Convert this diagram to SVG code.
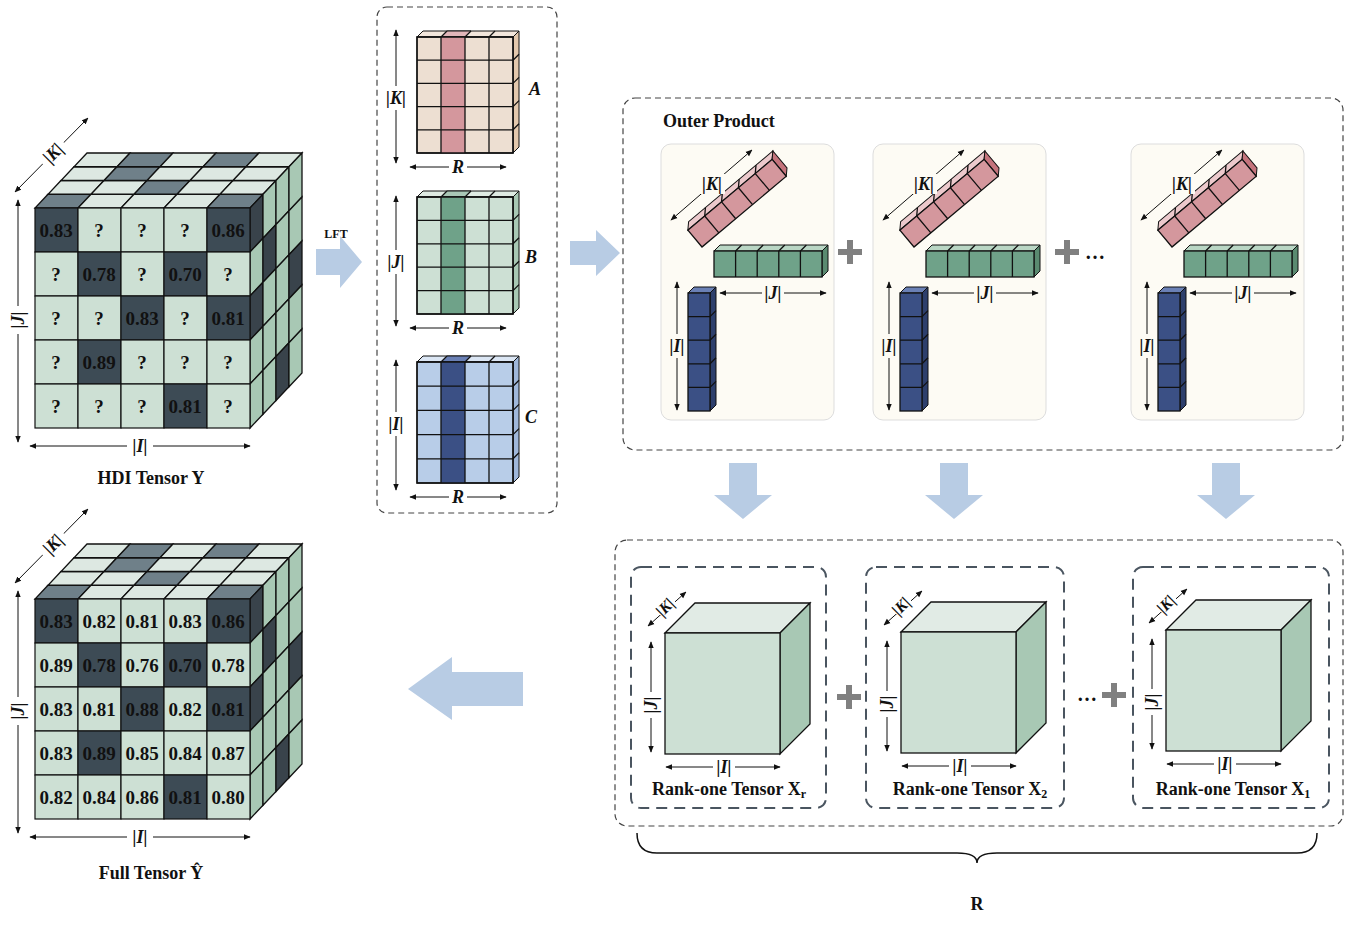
<svg xmlns="http://www.w3.org/2000/svg" width="1353" height="939" viewBox="0 0 1353 939">
<style>
text{font-family:"Liberation Serif","Times New Roman",serif;font-weight:bold;fill:#111}
.v{font-size:19px;text-anchor:middle;dominant-baseline:central}
.lab{font-size:18px;text-anchor:middle;dominant-baseline:central}
.it{font-style:italic}
.ax{stroke:#111;stroke-width:1;fill:none;marker-start:url(#ah);marker-end:url(#ah)}
.ns rect{vector-effect:non-scaling-stroke;stroke:#111;stroke-width:1.3}
.lt{fill:#cde0d4}.dk{fill:#3d4b55}.tl{fill:#dde8e2}.tg{fill:#6f8089}.sl{fill:#a8c8b4}.sd{fill:#39434b}
.dash{fill:none;stroke:#444;stroke-width:1.2;stroke-dasharray:6 4}
.dash2{fill:none;stroke:#4a5560;stroke-width:2;stroke-dasharray:11 7}
.barrow{fill:#b8cce4}
.plus{stroke:#808080;stroke-width:6}
.cell{stroke:#111;stroke-width:1.2}
.bg{fill:#fdfbf4;stroke:#ddd;stroke-width:1}
</style>
<defs>
<marker id="ah" viewBox="0 0 10 10" refX="9" refY="5" markerWidth="7" markerHeight="7" orient="auto-start-reverse"><path d="M0,1 L10,5 L0,9 z" fill="#111"/></marker>
<g id="cubeSides">
<g transform="matrix(43,0,13,-13.75,35,208)">
<g class="ns">
<rect class="tg" x="0" y="0" width="1" height="1"/><rect class="tl" x="1" y="0" width="1" height="1"/><rect class="tl" x="2" y="0" width="1" height="1"/><rect class="tl" x="3" y="0" width="1" height="1"/><rect class="tg" x="4" y="0" width="1" height="1"/>
<rect class="tl" x="0" y="1" width="1" height="1"/><rect class="tl" x="1" y="1" width="1" height="1"/><rect class="tg" x="2" y="1" width="1" height="1"/><rect class="tl" x="3" y="1" width="1" height="1"/><rect class="tl" x="4" y="1" width="1" height="1"/>
<rect class="tl" x="0" y="2" width="1" height="1"/><rect class="tg" x="1" y="2" width="1" height="1"/><rect class="tl" x="2" y="2" width="1" height="1"/><rect class="tl" x="3" y="2" width="1" height="1"/><rect class="tl" x="4" y="2" width="1" height="1"/>
<rect class="tl" x="0" y="3" width="1" height="1"/><rect class="tg" x="1" y="3" width="1" height="1"/><rect class="tl" x="2" y="3" width="1" height="1"/><rect class="tg" x="3" y="3" width="1" height="1"/><rect class="tl" x="4" y="3" width="1" height="1"/>
</g></g>
<g transform="matrix(13,-13.75,0,44,250,208)">
<g class="ns">
<rect class="sd" x="0" y="0" width="1" height="1"/><rect class="sl" x="0" y="1" width="1" height="1"/><rect class="sd" x="0" y="2" width="1" height="1"/><rect class="sl" x="0" y="3" width="1" height="1"/><rect class="sl" x="0" y="4" width="1" height="1"/>
<rect class="sl" x="1" y="0" width="1" height="1"/><rect class="sd" x="1" y="1" width="1" height="1"/><rect class="sl" x="1" y="2" width="1" height="1"/><rect class="sl" x="1" y="3" width="1" height="1"/><rect class="sl" x="1" y="4" width="1" height="1"/>
<rect class="sl" x="2" y="0" width="1" height="1"/><rect class="sl" x="2" y="1" width="1" height="1"/><rect class="sl" x="2" y="2" width="1" height="1"/><rect class="sl" x="2" y="3" width="1" height="1"/><rect class="sd" x="2" y="4" width="1" height="1"/>
<rect class="sl" x="3" y="0" width="1" height="1"/><rect class="sl" x="3" y="1" width="1" height="1"/><rect class="sd" x="3" y="2" width="1" height="1"/><rect class="sl" x="3" y="3" width="1" height="1"/><rect class="sl" x="3" y="4" width="1" height="1"/>
</g></g>
<line class="ax" x1="15" y1="192" x2="88" y2="118"/>
<line class="ax" x1="18" y1="200" x2="18" y2="442"/>
<line class="ax" x1="30" y1="446" x2="250" y2="446"/>
<rect x="38" y="144" width="30" height="18" fill="#fff" transform="rotate(-45 53 153)"/>
<text class="lab it" transform="translate(53,153) rotate(-45)">|K|</text>
<rect x="8" y="306" width="20" height="28" fill="#fff"/>
<text class="lab it" transform="translate(18,320) rotate(-90)">|J|</text>
<rect x="127" y="437" width="26" height="18" fill="#fff"/>
<text class="lab it" x="140" y="446">|I|</text>
</g>
<g id="bar">
<polygon points="0,0 108,0 114,-6 6,-6" fill="#b9d6c4" stroke="#111"/>
<polygon points="108,0 114,-6 114,20 108,26" fill="#5a8a70" stroke="#111"/>
<rect width="108" height="26" fill="#6fa289" stroke="#111" stroke-width="1.3"/>
<path d="M21.6,0V26M43.2,0V26M64.8,0V26M86.4,0V26M27.6,-6L21.6,0M49.2,-6L43.2,0M70.8,-6L64.8,0M92.4,-6L86.4,0" stroke="#111" stroke-width="1.3"/>
</g>
<g id="col">
<polygon points="0,0 22,0 28,-6 6,-6" fill="#6a80b5" stroke="#111"/>
<polygon points="22,0 28,-6 28,112 22,118" fill="#2d3f6c" stroke="#111"/>
<rect width="22" height="118" fill="#3b5085" stroke="#111" stroke-width="1.3"/>
<path d="M0,23.6H22M0,47.2H22M0,70.8H22M0,94.4H22M22,23.6L28,17.6M22,47.2L28,41.2M22,70.8L28,64.8M22,94.4L28,88.4" stroke="#111" stroke-width="1.3"/>
</g>
<g id="pink">
<g transform="translate(702,247) rotate(-40)">
<polygon points="0,-22 110,-22 116,-28 6,-28" fill="#ecc9cc" stroke="#111"/>
<polygon points="110,0 110,-22 116,-28 116,-6" fill="#c4737c" stroke="#111"/>
<rect y="-22" width="110" height="22" fill="#d4979d" stroke="#111" stroke-width="1.3"/>
<path d="M22,0V-22M44,0V-22M66,0V-22M88,0V-22M22,-22L28,-28M44,-22L50,-28M66,-22L72,-28M88,-22L94,-28" stroke="#111" stroke-width="1.3"/>
</g>
</g>
<g id="panel">
<rect class="bg" x="661" y="144" width="173" height="276" rx="10"/>
<use href="#pink"/>
<use href="#bar" x="714" y="251"/>
<use href="#col" x="688" y="293"/>
<line class="ax" x1="671" y1="220" x2="752" y2="150"/>
<rect x="699" y="174" width="26" height="20" fill="#fdfbf4"/>
<text class="lab it" x="712" y="184">|K|</text>
<line class="ax" x1="720" y1="293" x2="826" y2="293"/>
<rect x="762" y="284" width="22" height="20" fill="#fdfbf4"/>
<text class="lab it" x="773" y="293">|J|</text>
<line class="ax" x1="677" y1="282" x2="677" y2="410"/>
<rect x="668" y="334" width="18" height="24" fill="#fdfbf4"/>
<text class="lab it" x="677" y="346">|I|</text>
</g>
<g id="rcube">
<polygon points="665,633 695,603 810,603 780,633" fill="#e1ebe5" stroke="#111" stroke-width="1.3"/>
<polygon points="780,633 810,603 810,724 780,754" fill="#a8c8b4" stroke="#111" stroke-width="1.3"/>
<rect x="665" y="633" width="115" height="121" fill="#cde0d4" stroke="#111" stroke-width="1.3"/>
<line class="ax" x1="648" y1="626" x2="686" y2="592"/>
<rect x="655" y="599" width="20" height="16" fill="#fff"/>
<text class="lab it" transform="translate(665,607) rotate(-45)" style="font-size:16px">|K|</text>
<line class="ax" x1="651" y1="642" x2="651" y2="752"/>
<rect x="642" y="692" width="18" height="26" fill="#fff"/>
<text class="lab it" transform="translate(651,705) rotate(-90)">|J|</text>
<line class="ax" x1="666" y1="767" x2="780" y2="767"/>
<rect x="713" y="758" width="22" height="18" fill="#fff"/>
<text class="lab it" x="724" y="767">|I|</text>
</g>
</defs>

<g id="connectors">
<polygon class="barrow" points="316,249 340,249 340,236 362,262 340,288 340,275 316,275"/>
<text x="336" y="238" style="font-size:12px;text-anchor:middle">LFT</text>
<polygon class="barrow" points="570,241 596,241 596,230 620,253 596,276 596,265 570,265"/>
<polygon class="barrow" points="729,463 757,463 757,495 772,495 743,519 714,495 729,495"/>
<polygon class="barrow" points="940,463 968,463 968,495 983,495 954,519 925,495 940,495"/>
<polygon class="barrow" points="1212,463 1240,463 1240,495 1255,495 1226,519 1197,495 1212,495"/>
<polygon class="barrow" points="523,672 452,672 452,657 408,689 452,720 452,706 523,706"/>
<g class="plus"><line x1="838" y1="252" x2="862" y2="252"/><line x1="850" y1="240" x2="850" y2="264"/>
<line x1="1055" y1="252" x2="1079" y2="252"/><line x1="1067" y1="240" x2="1067" y2="264"/>
<line x1="837" y1="697" x2="861" y2="697"/><line x1="849" y1="685" x2="849" y2="709"/>
<line x1="1102" y1="695" x2="1126" y2="695"/><line x1="1114" y1="683" x2="1114" y2="707"/></g>
<text x="1095" y="252" style="font-size:20px;text-anchor:middle;dominant-baseline:central">…</text>
<text x="1087" y="694" style="font-size:20px;text-anchor:middle;dominant-baseline:central">…</text>
<path d="M637,833 Q637,853 657,853 L957,853 Q977,853 977,863 Q977,853 997,853 L1297,853 Q1317,853 1317,833" fill="none" stroke="#111" stroke-width="1.5"/>
<text class="lab" x="977" y="904">R</text>
</g>

<g id="tensorY">
<use href="#cubeSides"/>
<g class="cell">
<rect class="dk" x="35" y="208" width="43" height="44"/><rect class="lt" x="78" y="208" width="43" height="44"/><rect class="lt" x="121" y="208" width="43" height="44"/><rect class="lt" x="164" y="208" width="43" height="44"/><rect class="dk" x="207" y="208" width="43" height="44"/>
<rect class="lt" x="35" y="252" width="43" height="44"/><rect class="dk" x="78" y="252" width="43" height="44"/><rect class="lt" x="121" y="252" width="43" height="44"/><rect class="dk" x="164" y="252" width="43" height="44"/><rect class="lt" x="207" y="252" width="43" height="44"/>
<rect class="lt" x="35" y="296" width="43" height="44"/><rect class="lt" x="78" y="296" width="43" height="44"/><rect class="dk" x="121" y="296" width="43" height="44"/><rect class="lt" x="164" y="296" width="43" height="44"/><rect class="dk" x="207" y="296" width="43" height="44"/>
<rect class="lt" x="35" y="340" width="43" height="44"/><rect class="dk" x="78" y="340" width="43" height="44"/><rect class="lt" x="121" y="340" width="43" height="44"/><rect class="lt" x="164" y="340" width="43" height="44"/><rect class="lt" x="207" y="340" width="43" height="44"/>
<rect class="lt" x="35" y="384" width="43" height="44"/><rect class="lt" x="78" y="384" width="43" height="44"/><rect class="lt" x="121" y="384" width="43" height="44"/><rect class="dk" x="164" y="384" width="43" height="44"/><rect class="lt" x="207" y="384" width="43" height="44"/>
</g>
<g>
<text class="v" x="56" y="230">0.83</text><text class="v" x="99" y="230">?</text><text class="v" x="142" y="230">?</text><text class="v" x="185" y="230">?</text><text class="v" x="228" y="230">0.86</text>
<text class="v" x="56" y="274">?</text><text class="v" x="99" y="274">0.78</text><text class="v" x="142" y="274">?</text><text class="v" x="185" y="274">0.70</text><text class="v" x="228" y="274">?</text>
<text class="v" x="56" y="318">?</text><text class="v" x="99" y="318">?</text><text class="v" x="142" y="318">0.83</text><text class="v" x="185" y="318">?</text><text class="v" x="228" y="318">0.81</text>
<text class="v" x="56" y="362">?</text><text class="v" x="99" y="362">0.89</text><text class="v" x="142" y="362">?</text><text class="v" x="185" y="362">?</text><text class="v" x="228" y="362">?</text>
<text class="v" x="56" y="406">?</text><text class="v" x="99" y="406">?</text><text class="v" x="142" y="406">?</text><text class="v" x="185" y="406">0.81</text><text class="v" x="228" y="406">?</text>
</g>
<text class="lab" x="151" y="478">HDI Tensor Y</text>
</g>

<g id="tensorFull" transform="translate(0,391)">
<use href="#cubeSides"/>
<g class="cell">
<rect class="dk" x="35" y="208" width="43" height="44"/><rect class="lt" x="78" y="208" width="43" height="44"/><rect class="lt" x="121" y="208" width="43" height="44"/><rect class="lt" x="164" y="208" width="43" height="44"/><rect class="dk" x="207" y="208" width="43" height="44"/>
<rect class="lt" x="35" y="252" width="43" height="44"/><rect class="dk" x="78" y="252" width="43" height="44"/><rect class="lt" x="121" y="252" width="43" height="44"/><rect class="dk" x="164" y="252" width="43" height="44"/><rect class="lt" x="207" y="252" width="43" height="44"/>
<rect class="lt" x="35" y="296" width="43" height="44"/><rect class="lt" x="78" y="296" width="43" height="44"/><rect class="dk" x="121" y="296" width="43" height="44"/><rect class="lt" x="164" y="296" width="43" height="44"/><rect class="dk" x="207" y="296" width="43" height="44"/>
<rect class="lt" x="35" y="340" width="43" height="44"/><rect class="dk" x="78" y="340" width="43" height="44"/><rect class="lt" x="121" y="340" width="43" height="44"/><rect class="lt" x="164" y="340" width="43" height="44"/><rect class="lt" x="207" y="340" width="43" height="44"/>
<rect class="lt" x="35" y="384" width="43" height="44"/><rect class="lt" x="78" y="384" width="43" height="44"/><rect class="lt" x="121" y="384" width="43" height="44"/><rect class="dk" x="164" y="384" width="43" height="44"/><rect class="lt" x="207" y="384" width="43" height="44"/>
</g>
<g>
<text class="v" x="56" y="230">0.83</text><text class="v" x="99" y="230">0.82</text><text class="v" x="142" y="230">0.81</text><text class="v" x="185" y="230">0.83</text><text class="v" x="228" y="230">0.86</text>
<text class="v" x="56" y="274">0.89</text><text class="v" x="99" y="274">0.78</text><text class="v" x="142" y="274">0.76</text><text class="v" x="185" y="274">0.70</text><text class="v" x="228" y="274">0.78</text>
<text class="v" x="56" y="318">0.83</text><text class="v" x="99" y="318">0.81</text><text class="v" x="142" y="318">0.88</text><text class="v" x="185" y="318">0.82</text><text class="v" x="228" y="318">0.81</text>
<text class="v" x="56" y="362">0.83</text><text class="v" x="99" y="362">0.89</text><text class="v" x="142" y="362">0.85</text><text class="v" x="185" y="362">0.84</text><text class="v" x="228" y="362">0.87</text>
<text class="v" x="56" y="406">0.82</text><text class="v" x="99" y="406">0.84</text><text class="v" x="142" y="406">0.86</text><text class="v" x="185" y="406">0.81</text><text class="v" x="228" y="406">0.80</text>
</g>
<text class="lab" x="151" y="482">Full Tensor Ŷ</text>
</g>

<g id="factors">
<rect class="dash" x="377" y="7" width="180" height="506" rx="10"/>
<g id="matA">
<polygon points="417,37 513,37 519,31 423,31" fill="#f2e6dc" stroke="#111"/>
<polygon points="441,37 465,37 471,31 447,31" fill="#e2b6ba" stroke="#111"/>
<polygon points="513,37 519,31 519,147 513,153" fill="#e3c8ad" stroke="#111"/>
<rect x="417" y="37" width="96" height="116" fill="#eddfd2" stroke="#111" stroke-width="1.3"/>
<rect x="441" y="37" width="24" height="116" fill="#d4979d"/>
<path d="M417,60.2H513M417,83.4H513M417,106.6H513M417,129.8H513M441,37V153M465,37V153M489,37V153M441,37L447,31M465,37L471,31M489,37L495,31M513,60.2L519,54.2M513,83.4L519,77.4M513,106.6L519,100.6M513,129.8L519,123.8M417,37H513V153H417Z" fill="none" stroke="#111" stroke-width="1.3"/>
<line class="ax" x1="396" y1="30" x2="396" y2="163"/>
<rect x="385" y="86" width="22" height="24" fill="#fff"/>
<text class="lab it" x="396" y="98">|K|</text>
<line class="ax" x1="410" y1="167" x2="506" y2="167"/>
<rect x="449" y="158" width="18" height="18" fill="#fff"/>
<text class="lab it" x="458" y="167">R</text>
<text class="lab it" x="535" y="89">A</text>
</g>
<g id="matB">
<polygon points="417,197 513,197 519,191 423,191" fill="#dfebe3" stroke="#111"/>
<polygon points="441,197 465,197 471,191 447,191" fill="#a9c7b6" stroke="#111"/>
<polygon points="513,197 519,191 519,308 513,314" fill="#a8c8b4" stroke="#111"/>
<rect x="417" y="197" width="96" height="117" fill="#cde0d4" stroke="#111" stroke-width="1.3"/>
<rect x="441" y="197" width="24" height="117" fill="#6fa289"/>
<path d="M417,220.4H513M417,243.8H513M417,267.2H513M417,290.6H513M441,197V314M465,197V314M489,197V314M441,197L447,191M465,197L471,191M489,197L495,191M513,220.4L519,214.4M513,243.8L519,237.8M513,267.2L519,261.2M513,290.6L519,284.6M417,197H513V314H417Z" fill="none" stroke="#111" stroke-width="1.3"/>
<line class="ax" x1="396" y1="196" x2="396" y2="326"/>
<rect x="385" y="250" width="22" height="24" fill="#fff"/>
<text class="lab it" x="396" y="262">|J|</text>
<line class="ax" x1="410" y1="328" x2="506" y2="328"/>
<rect x="449" y="319" width="18" height="18" fill="#fff"/>
<text class="lab it" x="458" y="328">R</text>
<text class="lab it" x="531" y="257">B</text>
</g>
<g id="matC">
<polygon points="417,362 513,362 519,356 423,356" fill="#dbe6f4" stroke="#111"/>
<polygon points="441,362 465,362 471,356 447,356" fill="#6a80b5" stroke="#111"/>
<polygon points="513,362 519,356 519,477 513,483" fill="#9fb7da" stroke="#111"/>
<rect x="417" y="362" width="96" height="121" fill="#b8cde8" stroke="#111" stroke-width="1.3"/>
<rect x="441" y="362" width="24" height="121" fill="#3b5085"/>
<path d="M417,386.2H513M417,410.4H513M417,434.6H513M417,458.8H513M441,362V483M465,362V483M489,362V483M441,362L447,356M465,362L471,356M489,362L495,356M513,386.2L519,380.2M513,410.4L519,404.4M513,434.6L519,428.6M513,458.8L519,452.8M417,362H513V483H417Z" fill="none" stroke="#111" stroke-width="1.3"/>
<line class="ax" x1="396" y1="360" x2="396" y2="490"/>
<rect x="385" y="412" width="22" height="24" fill="#fff"/>
<text class="lab it" x="396" y="424">|I|</text>
<line class="ax" x1="410" y1="497" x2="506" y2="497"/>
<rect x="449" y="488" width="18" height="18" fill="#fff"/>
<text class="lab it" x="458" y="497">R</text>
<text class="lab it" x="531" y="417">C</text>
</g>
</g>

<g id="outerProduct">
<rect class="dash" x="623" y="98" width="720" height="352" rx="12"/>
<text x="663" y="127" style="font-size:18px">Outer Product</text>
<g id="op1"><use href="#panel"/></g>
<g id="op2"><use href="#panel" x="212"/></g>
<g id="op3"><use href="#panel" x="470"/></g>
</g>

<g id="rankOne">
<rect class="dash" x="615" y="540" width="728" height="286" rx="12"/>
<g id="r1"><rect class="dash2" x="631" y="567" width="195" height="241" rx="10"/><use href="#rcube"/>
<text class="lab" x="729" y="789">Rank-one Tensor X<tspan style="font-size:12px" dy="5">r</tspan></text></g>
<g id="r2"><rect class="dash2" x="866" y="567" width="198" height="241" rx="10"/><use href="#rcube" x="236" y="-1"/>
<text class="lab" x="970" y="789">Rank-one Tensor X<tspan style="font-size:12px" dy="5">2</tspan></text></g>
<g id="r3"><rect class="dash2" x="1133" y="567" width="196" height="241" rx="10"/><use href="#rcube" x="501" y="-3"/>
<text class="lab" x="1233" y="789">Rank-one Tensor X<tspan style="font-size:12px" dy="5">1</tspan></text></g>
</g>
</svg>
